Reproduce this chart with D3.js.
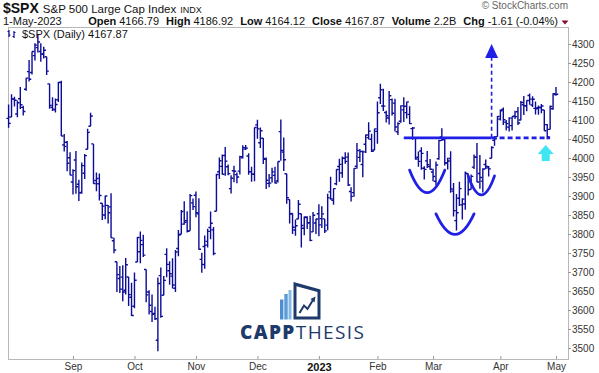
<!DOCTYPE html>
<html>
<head>
<meta charset="utf-8">
<script src="https://cdn.jsdelivr.net/npm/d3@7"></script>
<style>
  body { margin: 0; background: #fff; }
  svg { display: block; font-family: Arial, "Liberation Sans", sans-serif; }
</style>
</head>
<body>
<script>
// daily bars, $SPX, 2-Aug-2022 .. 1-May-2023
const dates = [
 "2022-08-02","2022-08-03","2022-08-04","2022-08-05","2022-08-08","2022-08-09","2022-08-10","2022-08-11","2022-08-12","2022-08-15","2022-08-16","2022-08-17","2022-08-18","2022-08-19","2022-08-22","2022-08-23","2022-08-24","2022-08-25","2022-08-26","2022-08-29","2022-08-30","2022-08-31",
 "2022-09-01","2022-09-02","2022-09-06","2022-09-07","2022-09-08","2022-09-09","2022-09-12","2022-09-13","2022-09-14","2022-09-15","2022-09-16","2022-09-19","2022-09-20","2022-09-21","2022-09-22","2022-09-23","2022-09-26","2022-09-27","2022-09-28","2022-09-29","2022-09-30",
 "2022-10-03","2022-10-04","2022-10-05","2022-10-06","2022-10-07","2022-10-10","2022-10-11","2022-10-12","2022-10-13","2022-10-14","2022-10-17","2022-10-18","2022-10-19","2022-10-20","2022-10-21","2022-10-24","2022-10-25","2022-10-26","2022-10-27","2022-10-28","2022-10-31",
 "2022-11-01","2022-11-02","2022-11-03","2022-11-04","2022-11-07","2022-11-08","2022-11-09","2022-11-10","2022-11-11","2022-11-14","2022-11-15","2022-11-16","2022-11-17","2022-11-18","2022-11-21","2022-11-22","2022-11-23","2022-11-25","2022-11-28","2022-11-29","2022-11-30",
 "2022-12-01","2022-12-02","2022-12-05","2022-12-06","2022-12-07","2022-12-08","2022-12-09","2022-12-12","2022-12-13","2022-12-14","2022-12-15","2022-12-16","2022-12-19","2022-12-20","2022-12-21","2022-12-22","2022-12-23","2022-12-27","2022-12-28","2022-12-29","2022-12-30",
 "2023-01-03","2023-01-04","2023-01-05","2023-01-06","2023-01-09","2023-01-10","2023-01-11","2023-01-12","2023-01-13","2023-01-17","2023-01-18","2023-01-19","2023-01-20","2023-01-23","2023-01-24","2023-01-25","2023-01-26","2023-01-27","2023-01-30","2023-01-31",
 "2023-02-01","2023-02-02","2023-02-03","2023-02-06","2023-02-07","2023-02-08","2023-02-09","2023-02-10","2023-02-13","2023-02-14","2023-02-15","2023-02-16","2023-02-17","2023-02-21","2023-02-22","2023-02-23","2023-02-24","2023-02-27","2023-02-28",
 "2023-03-01","2023-03-02","2023-03-03","2023-03-06","2023-03-07","2023-03-08","2023-03-09","2023-03-10","2023-03-13","2023-03-14","2023-03-15","2023-03-16","2023-03-17","2023-03-20","2023-03-21","2023-03-22","2023-03-23","2023-03-24","2023-03-27","2023-03-28","2023-03-29","2023-03-30","2023-03-31",
 "2023-04-03","2023-04-04","2023-04-05","2023-04-06","2023-04-10","2023-04-11","2023-04-12","2023-04-13","2023-04-14","2023-04-17","2023-04-18","2023-04-19","2023-04-20","2023-04-21","2023-04-24","2023-04-25","2023-04-26","2023-04-27","2023-04-28",
 "2023-05-01"
];
const opens = [
 4104.2,4108.0,4154.9,4115.9,4155.9,4133.1,4181.0,4227.4,4225.0,4269.4,4290.5,4280.4,4273.1,4266.3,4195.1,4133.1,4126.6,4153.3,4198.7,4034.6,4041.3,4000.7,
 3936.7,3994.7,3930.9,3909.4,3959.9,4022.9,4083.7,4037.1,3940.7,3932.4,3881.0,3849.9,3875.2,3871.4,3782.4,3727.1,3682.7,3686.4,3651.9,3687.0,3633.5,
 3609.8,3726.5,3753.3,3772.0,3706.7,3647.5,3595.9,3590.8,3520.4,3690.4,3638.7,3746.3,3703.1,3689.1,3657.1,3762.0,3799.4,3826.0,3834.7,3808.3,3881.9,
 3901.8,3852.9,3733.3,3767.0,3780.7,3817.0,3810.9,3859.9,3963.7,3978.0,4006.4,3976.8,3919.3,3966.4,3956.2,3965.5,4000.3,4023.3,4005.4,3964.2,3957.2,
 4087.1,4040.2,4052.0,3996.6,3933.3,3947.8,3954.2,3939.3,4069.4,4015.5,3958.4,3890.9,3853.8,3810.5,3839.5,3853.3,3815.1,3843.3,3829.6,3805.5,3829.1,
 3853.3,3840.4,3839.7,3823.4,3910.8,3888.6,3932.4,3977.6,3960.6,3999.3,4002.3,3911.8,3909.0,3978.1,4001.7,3982.7,4036.1,4053.7,4049.3,4020.9,
 4070.1,4158.7,4136.7,4119.6,4105.4,4153.5,4144.3,4068.9,4096.6,4126.7,4119.5,4114.8,4077.4,4052.4,4001.8,4018.6,3973.2,3992.4,3977.2,
 3963.3,3938.7,3998.0,4055.2,4048.3,3987.6,3998.7,3912.8,3835.1,3894.0,3876.7,3878.9,3958.7,3917.5,3975.9,4002.0,3959.2,3939.2,3982.9,3974.1,3999.5,4046.7,4056.2,
 4102.2,4128.0,4094.5,4081.2,4085.2,4110.3,4121.7,4100.0,4140.1,4137.2,4164.3,4139.3,4130.5,4132.1,4132.1,4126.4,4087.8,4075.3,4129.6,
 4166.8
];
const highs = [
 4140.5,4167.7,4161.3,4151.6,4186.6,4137.3,4211.0,4257.9,4280.5,4301.8,4325.3,4302.2,4292.9,4266.3,4195.1,4159.8,4156.6,4200.5,4203.0,4063.0,4045.0,4015.4,
 3970.2,4018.4,3942.6,3987.9,4010.5,4076.8,4119.3,4037.1,3961.9,3959.1,3881.0,3900.5,3876.0,3907.1,3790.0,3727.1,3715.7,3717.5,3736.7,3687.0,3671.4,
 3698.4,3791.9,3806.9,3797.9,3706.7,3652.2,3640.7,3608.3,3685.4,3712.0,3689.7,3762.8,3728.6,3736.0,3757.9,3810.7,3862.9,3886.2,3860.0,3905.4,3893.7,
 3911.8,3894.4,3750.6,3796.3,3814.0,3859.4,3818.2,3958.3,4001.5,4009.0,4028.8,3983.1,3954.3,3979.9,3962.0,4005.9,4033.8,4034.0,4012.3,3976.8,4080.1,
 4100.5,4080.5,4052.5,4001.5,3957.6,3974.2,3977.0,3990.7,4101.0,4053.8,3958.4,3890.9,3854.9,3838.2,3889.8,3853.3,3845.8,3846.7,3848.3,3858.2,3839.9,
 3878.5,3873.2,3839.7,3906.2,3950.6,3919.8,3970.1,3997.8,4004.0,4015.4,4014.2,3922.9,3973.0,4039.3,4023.9,4019.6,4061.6,4094.2,4063.9,4077.2,
 4149.0,4195.4,4182.4,4124.6,4176.5,4156.9,4156.2,4094.4,4138.9,4159.8,4148.1,4136.5,4081.5,4052.4,4017.4,4028.3,3978.3,4018.1,3997.5,
 3971.7,3990.8,4048.3,4078.5,4050.0,4000.4,4017.8,3934.1,3905.1,3937.3,3894.3,3964.5,3958.9,3956.6,4009.1,4039.5,4007.7,3972.7,3996.3,3979.2,4030.6,4057.9,4110.8,
 4127.7,4133.1,4099.7,4107.3,4109.5,4124.3,4134.4,4150.3,4163.2,4151.7,4169.5,4162.6,4148.6,4138.0,4142.4,4126.4,4089.7,4138.2,4170.1,
 4186.9
];
const lows = [
 4079.8,4108.0,4135.4,4107.3,4129.0,4112.1,4177.3,4201.4,4219.8,4256.9,4277.8,4253.1,4262.0,4218.7,4129.9,4124.0,4120.0,4147.6,4057.7,4017.4,3965.2,3954.5,
 3903.7,3906.2,3886.8,3906.0,3944.8,4022.9,4083.7,3932.4,3912.5,3888.3,3837.1,3838.5,3827.5,3789.5,3749.5,3647.5,3644.8,3623.3,3640.6,3610.4,3584.1,
 3604.9,3726.5,3722.7,3739.2,3620.7,3588.1,3568.5,3573.9,3491.6,3579.7,3638.7,3686.5,3666.5,3656.4,3647.4,3741.7,3799.4,3824.1,3803.8,3808.3,3863.2,
 3843.8,3758.7,3698.2,3708.8,3764.7,3786.3,3744.2,3859.9,3944.8,3956.4,3953.2,3954.3,3906.5,3936.0,3933.3,3956.9,3998.7,4020.8,3955.8,3937.7,3938.6,
 4050.9,4026.6,3984.5,3918.4,3922.7,3935.8,3933.0,3935.3,3993.0,3965.7,3879.5,3827.9,3800.0,3795.6,3839.5,3764.5,3797.0,3813.2,3780.8,3805.5,3800.3,
 3794.3,3815.8,3802.4,3809.6,3890.4,3877.3,3928.5,3937.6,3947.7,3984.6,3926.6,3885.5,3897.9,3971.6,3989.8,3949.1,4013.3,4048.7,4015.6,4020.4,
 4037.2,4141.9,4123.4,4093.4,4088.4,4111.7,4069.7,4060.8,4092.7,4095.0,4104.0,4089.5,4048.0,3995.2,3976.9,3969.2,3943.1,3973.6,3969.0,
 3939.1,3928.2,3995.2,4044.6,3980.3,3969.8,3908.7,3846.3,3808.9,3873.6,3838.2,3864.1,3901.3,3916.9,3971.2,3936.2,3919.1,3909.2,3970.5,3951.5,3999.5,4032.1,4056.2,
 4098.8,4086.9,4072.6,4069.8,4072.6,4102.6,4086.9,4099.4,4113.2,4123.2,4140.4,4134.5,4114.6,4113.9,4117.8,4071.4,4049.4,4075.3,4127.2,
 4164.1
];
const closes = [
 4091.2,4155.2,4151.9,4145.2,4140.1,4122.5,4210.2,4207.3,4280.2,4297.1,4305.2,4274.0,4283.7,4228.5,4138.0,4128.7,4140.8,4199.1,4057.7,4030.6,3986.2,3955.0,
 3966.9,3924.3,3908.2,3979.9,4006.2,4067.4,4110.4,3932.7,3946.0,3901.4,3873.3,3899.9,3855.9,3789.9,3758.0,3693.2,3655.0,3647.3,3719.0,3640.5,3585.6,
 3678.4,3790.9,3783.3,3744.5,3639.7,3612.4,3588.8,3577.0,3669.9,3583.1,3678.0,3720.0,3695.2,3665.8,3752.8,3797.3,3859.1,3830.6,3807.3,3901.1,3872.0,
 3856.1,3759.7,3719.9,3770.6,3806.8,3828.1,3748.6,3956.4,3992.9,3957.3,3991.7,3958.8,3946.6,3965.3,3949.9,4003.6,4027.3,4026.1,3963.9,3957.6,4080.1,
 4076.6,4071.7,3998.8,3941.3,3933.9,3963.5,3934.4,3990.6,4019.7,3995.3,3895.8,3852.4,3817.7,3821.6,3878.4,3822.4,3844.8,3829.3,3783.2,3849.3,3839.5,
 3824.1,3853.0,3808.1,3895.1,3892.1,3919.3,3969.6,3983.2,3999.1,3991.0,3928.9,3898.9,3972.6,4019.8,4017.0,4016.2,4060.4,4070.6,4017.8,4076.6,
 4119.2,4179.8,4136.5,4111.1,4164.0,4117.9,4081.5,4090.5,4137.3,4136.1,4147.6,4090.4,4079.1,3997.3,3991.1,4012.3,3970.0,3982.2,3970.2,
 3951.4,3981.4,4045.6,4048.4,3986.4,3992.0,3918.3,3861.6,3855.8,3919.3,3891.9,3960.3,3916.6,3951.6,4002.9,3937.0,3948.7,3971.0,3977.5,3971.3,4027.8,4050.8,4109.3,
 4124.5,4100.6,4090.4,4105.0,4109.1,4108.9,4092.0,4146.2,4137.6,4151.3,4154.9,4154.5,4129.8,4133.5,4137.0,4071.6,4056.0,4135.4,4169.5,
 4167.9
];
const yTicks = [3500,3550,3600,3650,3700,3750,3800,3850,3900,3950,4000,4050,4100,4150,4200,4250,4300];
const monthLabels = ["Sep","Oct","Nov","Dec","2023","Feb","Mar","Apr","May"];

// hand-drawn annotations, in chart coordinates
const neckline = { level: 4053, from: "2023-02-14", solidTo: "2023-03-29", dashTo: "2023-04-27" };
const targetArrow = { date: "2023-03-29", from: 4053, to: 4300 };
const cups = [
  { from: "2023-02-16", to: "2023-03-07", top: 3968, bottom: 3909 },
  { from: "2023-03-02", to: "2023-03-21", top: 3853, bottom: 3799 },
  { from: "2023-03-17", to: "2023-03-30", top: 3953, bottom: 3903 }
];
const retestArrow = { date: "2023-04-26", top: 4034, bottom: 3992 };

const W = 599, H = 373;
const plot = { left: 8, right: 568, top: 27, bottom: 359 };
const barColor = "#0c0c98";
const drawColor = "#1f1fe6";

const svg = d3.select("body").append("svg")
    .attr("width", W).attr("height", H);
svg.append("rect").attr("width", W).attr("height", H).attr("fill", "#fff");

const x = d3.scalePoint().domain(dates).range([8.6, 556]);
const y = d3.scaleLinear().domain([3500, 4300]).range([348, 44]);

// header
const h1 = svg.append("text").attr("x", 3).attr("y", 13).attr("fill", "#111");
h1.append("tspan").attr("font-size", 14).attr("font-weight", "bold").text("$SPX");
h1.append("tspan").attr("font-size", 11.5).attr("dx", 4).text("S&P 500 Large Cap Index");
h1.append("tspan").attr("font-size", 9).attr("dx", 4).text("INDX");

svg.append("text").attr("x", 568).attr("y", 9).attr("text-anchor", "end")
    .attr("font-size", 10).attr("fill", "#666").text("\u00a9 StockCharts.com");

svg.append("text").attr("x", 3).attr("y", 25).attr("font-size", 11).attr("fill", "#111").text("1-May-2023");

const quote = [["Open", "4166.79"], ["High", "4186.92"], ["Low", "4164.12"], ["Close", "4167.87"], ["Volume", "2.2B"], ["Chg", "-1.61 (-0.04%)"]];
const h2 = svg.append("text").attr("x", 558).attr("y", 25).attr("text-anchor", "end")
    .attr("font-size", 11).attr("fill", "#111").attr("xml:space", "preserve");
quote.forEach(([k, v], i) => {
  h2.append("tspan").attr("font-weight", "bold").attr("dx", i ? 7 : 0).text(k);
  h2.append("tspan").attr("dx", 3).text(v);
});
svg.append("path").attr("d", "M561.5,20.5 L568.5,20.5 L565,24.5 Z").attr("fill", "#8a0a2a");

// plot frame
svg.append("rect")
    .attr("x", plot.left + 0.5).attr("y", plot.top + 0.5)
    .attr("width", plot.right - plot.left).attr("height", plot.bottom - plot.top)
    .attr("fill", "none").attr("stroke", "#b8b8b8");

// legend
const lg = svg.append("g").attr("stroke", barColor).attr("stroke-width", 1.2);
lg.append("path").attr("d", "M9,30 V37 M7.5,31.5 H9 M9,35 H10.5 M14,31 V38 M12.5,36.5 H14 M14,32.5 H15.5");
svg.append("text").attr("x", 22).attr("y", 37.5).attr("font-size", 11).attr("fill", "#111")
    .text("$SPX (Daily) 4167.87");

// axes
const yAxis = d3.axisRight(y).tickValues(yTicks).tickSize(3).tickPadding(1).tickFormat(d3.format("d"));
const gy = svg.append("g").attr("transform", `translate(${plot.right},0)`).call(yAxis);
gy.select(".domain").remove();
gy.selectAll(".tick line").attr("stroke", "#999");
gy.selectAll(".tick text").attr("font-size", 10).attr("fill", "#333").attr("font-family", "Arial, 'Liberation Sans', sans-serif");

const monthStarts = dates.filter((d, i) => i > 0 && d.slice(5, 7) !== dates[i - 1].slice(5, 7));
const xAxis = d3.axisBottom(x).tickValues(monthStarts).tickSize(-3).tickPadding(4)
    .tickFormat((d, i) => monthLabels[i]);
const gx = svg.append("g").attr("transform", `translate(0,${plot.bottom})`).call(xAxis);
gx.select(".domain").remove();
gx.selectAll(".tick line").attr("stroke", "#999");
gx.selectAll(".tick text")
    .attr("font-family", "Arial, 'Liberation Sans', sans-serif")
    .attr("font-weight", (d, i) => monthLabels[i] === "2023" ? "bold" : null)
    .attr("font-size", (d, i) => monthLabels[i] === "2023" ? 11 : 10)
    .attr("fill", (d, i) => monthLabels[i] === "2023" ? "#111" : "#333");

// watermark logo
const logo = svg.append("g");
logo.append("rect").attr("x", 280).attr("y", 299.5).attr("width", 3.4).attr("height", 20).attr("fill", "#4f8fd0");
logo.append("rect").attr("x", 284.3).attr("y", 294).attr("width", 3.4).attr("height", 25.5).attr("fill", "#5a9bd8");
logo.append("rect").attr("x", 288.5).attr("y", 290).attr("width", 3).attr("height", 29.5).attr("fill", "#86b9e6");
logo.append("path").attr("fill-rule", "evenodd").attr("fill", "#1d3a6b")
    .attr("d", "M293.5,282 L320.5,289.5 L320.5,319.5 L293.5,319.5 Z M296.5,286.3 L317.5,292 L317.5,316.5 L296.5,316.5 Z");
logo.append("path").attr("fill", "none").attr("stroke", "#1d3a6b").attr("stroke-width", 2)
    .attr("d", "M299.5,313 L304,305.5 L307.5,309 L313,300");
logo.append("path").attr("fill", "#1d3a6b").attr("d", "M315.5,296.5 L310.5,299 L314.5,302.5 Z");
const lt = logo.append("text").attr("x", 240).attr("y", 339).attr("font-size", 19)
    .attr("fill", "#1d3a6b").attr("textLength", 124).attr("lengthAdjust", "spacing")
    .attr("font-family", "'Open Sans', Arial, sans-serif");
lt.append("tspan").attr("font-weight", 800).text("CAPP");
lt.append("tspan").attr("font-weight", 400).text("THESIS");

// OHLC bars
const bars = svg.append("g").attr("stroke", barColor).attr("stroke-width", 1.4).attr("fill", "none");
bars.selectAll("path")
  .data(dates)
  .join("path")
    .attr("d", (d, i) => {
      const cx = x(d);
      return `M${cx},${y(highs[i])}V${y(lows[i])}` +
             `M${cx - 2.2},${y(opens[i])}H${cx}` +
             `M${cx},${y(closes[i])}H${cx + 2.2}`;
    });

// annotations
const ann = svg.append("g").attr("fill", "none").attr("stroke", drawColor);
ann.append("line")
    .attr("x1", x(neckline.from)).attr("x2", x(neckline.solidTo))
    .attr("y1", y(neckline.level)).attr("y2", y(neckline.level))
    .attr("stroke-width", 2.6);
ann.append("line")
    .attr("x1", x(neckline.solidTo)).attr("x2", x(neckline.dashTo))
    .attr("y1", y(neckline.level)).attr("y2", y(neckline.level))
    .attr("stroke-width", 2.6).attr("stroke-dasharray", "5,3");
ann.append("line")
    .attr("x1", x(targetArrow.date)).attr("x2", x(targetArrow.date))
    .attr("y1", y(targetArrow.from)).attr("y2", y(targetArrow.to) + 13)
    .attr("stroke-width", 1.6).attr("stroke-dasharray", "4,3");
svg.append("path").attr("fill", drawColor)
    .attr("d", () => {
      const ax = x(targetArrow.date), ay = y(targetArrow.to);
      return `M${ax},${ay} L${ax + 6.5},${ay + 14} L${ax - 6.5},${ay + 14} Z`;
    });
ann.selectAll("path.cup")
  .data(cups)
  .join("path")
    .attr("class", "cup")
    .attr("stroke-width", 2.8).attr("stroke-linecap", "round")
    .attr("d", c => {
      const x1 = x(c.from), x2 = x(c.to), yt = y(c.top), yb = y(c.bottom);
      return `M${x1},${yt} Q${(x1 + x2) / 2},${2 * yb - yt} ${x2},${yt}`;
    });
svg.append("path").attr("fill", "#3fe6f2")
    .attr("d", () => {
      const ax = x(retestArrow.date) - 1.5, t = y(retestArrow.top), b = y(retestArrow.bottom);
      return `M${ax},${t} L${ax + 8},${t + 9} L${ax + 4},${t + 9} L${ax + 4},${b} L${ax - 4},${b} L${ax - 4},${t + 9} L${ax - 8},${t + 9} Z`;
    });
</script>
</body>
</html>
